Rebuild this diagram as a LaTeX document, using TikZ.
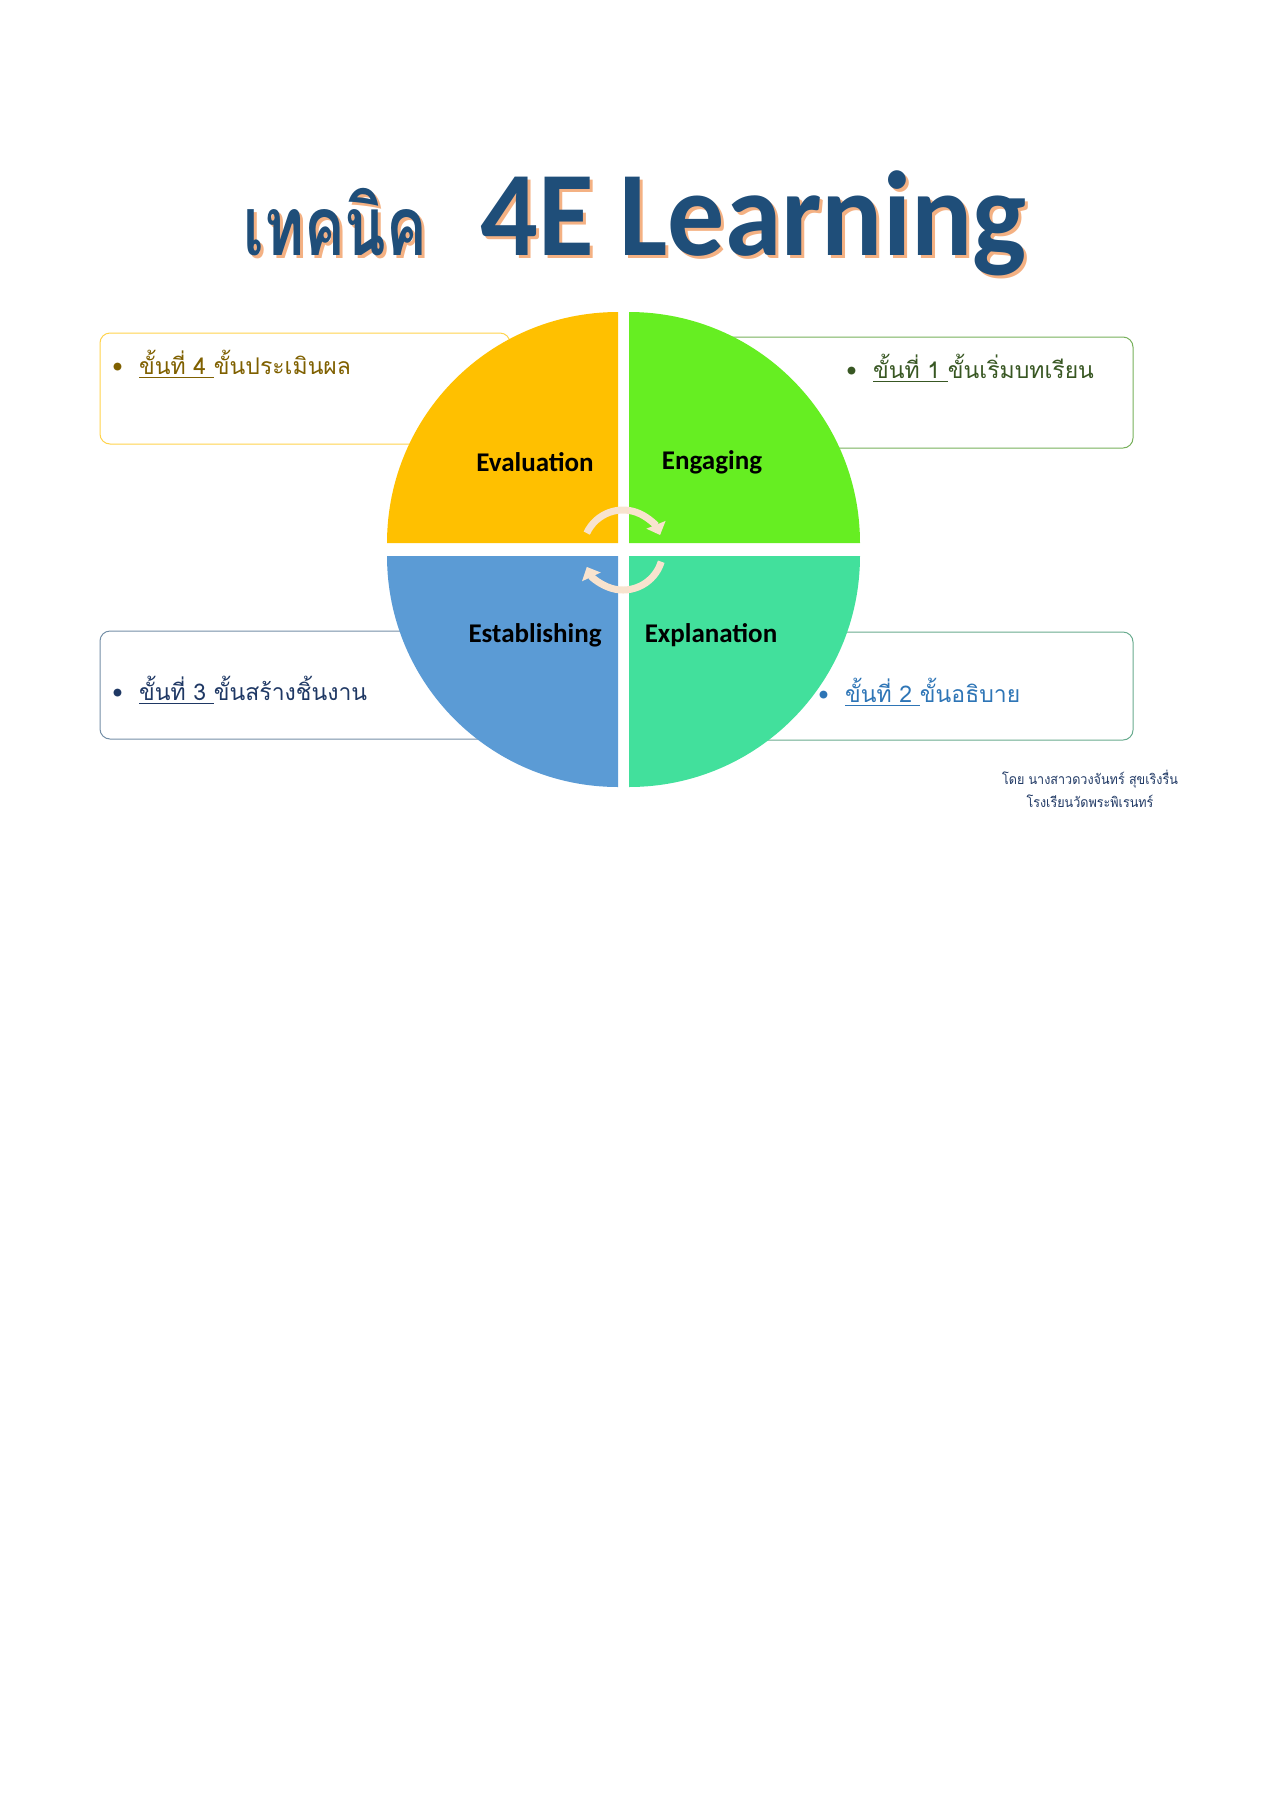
\documentclass[tikz,border=0pt]{standalone}
\usepackage{fontspec}
\setmainfont{Carlito}
\newfontfamily\thai[Script=Thai]{Loma}
\usetikzlibrary{arrows.meta}
\definecolor{ttl}{HTML}{1F4E79}
\definecolor{shd}{HTML}{F4B183}
\definecolor{eva}{HTML}{FFC000}
\definecolor{eng}{HTML}{66EE22}
\definecolor{est}{HTML}{5B9BD5}
\definecolor{exp}{HTML}{42E09C}
\definecolor{cyc}{HTML}{F8E3CE}
\definecolor{tfour}{HTML}{7F6000}
\definecolor{tone}{HTML}{385723}
\definecolor{tthree}{HTML}{1F3864}
\definecolor{ttwo}{HTML}{2E75B6}
\newcommand{\stepline}[2]{\textbullet\hspace{8pt}\underline{#1\ }#2}
\newcommand{\thtitle}{\scalebox{0.74}[1]{เทคนิค}}
\newcommand{\entitle}{\scalebox{1}[1.06]{4E Learning}}

\begin{document}
\begin{tikzpicture}[x=0.5pt,y=-0.5pt,
  box/.style={draw,rounded corners=5pt,line width=0.5pt},
  lbl/.style={font=\fontsize{13.5}{16}\selectfont\bfseries,inner sep=0pt},
  stp/.style={anchor=base west,inner sep=0pt,font=\thai\fontsize{11.5}{14}\selectfont},
  foot/.style={tthree,inner sep=0pt,font=\thai\fontsize{7}{8}\selectfont},
  arw/.style={draw=cyc,line width=3.5pt,-{Triangle[length=5.5pt,width=10pt]}}]
  \useasboundingbox (0,0) rectangle (1273,1800);

  % title
  \node[anchor=base west,inner sep=0pt,shd,font=\thai\bfseries\fontsize{41}{48}\selectfont] (ttlths) at (246,258) {\thtitle};
  \node[anchor=base west,inner sep=0pt,ttl,font=\thai\bfseries\fontsize{41}{48}\selectfont] (ttlth) at (243,255) {\thtitle};
  \node[anchor=base west,inner sep=0pt,shd,font=\bfseries\fontsize{57}{64}\selectfont] (ttlens) at (483,258) {\entitle};
  \node[anchor=base west,inner sep=0pt,ttl,font=\bfseries\fontsize{57}{64}\selectfont] (ttlen) at (480,255) {\entitle};

  % step boxes
  \draw[box,draw=eva!70] (100,333) rectangle (510,444);
  \draw[box,draw=eng!60!black!70] (723,337) rectangle (1133,448);
  \draw[box,draw=est!60!black!70] (100,631) rectangle (510,739);
  \draw[box,draw=exp!60!black!70] (723,632) rectangle (1133,740);

  % quadrants
  \fill[eva] (618,543) -- ++(-231,0) arc[start angle=180,end angle=270,radius=231] -- cycle;
  \fill[eng] (629,543) -- ++(231,0) arc[start angle=0,end angle=-90,radius=231] -- cycle;
  \fill[est] (618,556) -- ++(-231,0) arc[start angle=180,end angle=90,radius=231] -- cycle;
  \fill[exp] (629,556) -- ++(231,0) arc[start angle=0,end angle=90,radius=231] -- cycle;

  \node[lbl] (eval) at (535,462) {Evaluation};
  \node[lbl] (enga) at (712,462) {Engaging};
  \node[lbl] (esta) at (535,635) {Establishing};
  \node[lbl] (expl) at (711,635) {Explanation};

  % cycle arrows
  \coordinate (c) at (623,550);
  \draw[arw] ([shift={(-155:40)}]c) arc[start angle=-155,end angle=-22,radius=40];
  \draw[arw] ([shift={(17:40)}]c) arc[start angle=17,end angle=155,radius=40];

  % step texts
  \node[stp,tfour] (s4) at (112,374) {\stepline{ขั้นที่ 4}{ขั้นประเมินผล}};
  \node[stp,tone] (s1) at (846,378) {\stepline{ขั้นที่ 1}{ขั้นเริ่มบทเรียน}};
  \node[stp,tthree] (s3) at (112,700) {\stepline{ขั้นที่ 3}{ขั้นสร้างชิ้นงาน}};
  \node[stp,ttwo] (s2) at (818,702) {\stepline{ขั้นที่ 2}{ขั้นอธิบาย}};

  % footer
  \node[foot] (by) at (1090,779) {\scalebox{0.9}[1]{โดย นางสาวดวงจันทร์ สุขเริงรื่น}};
  \node[foot] (sch) at (1090,801) {\scalebox{0.9}[1]{โรงเรียนวัดพระพิเรนทร์}};
\end{tikzpicture}
\end{document}
